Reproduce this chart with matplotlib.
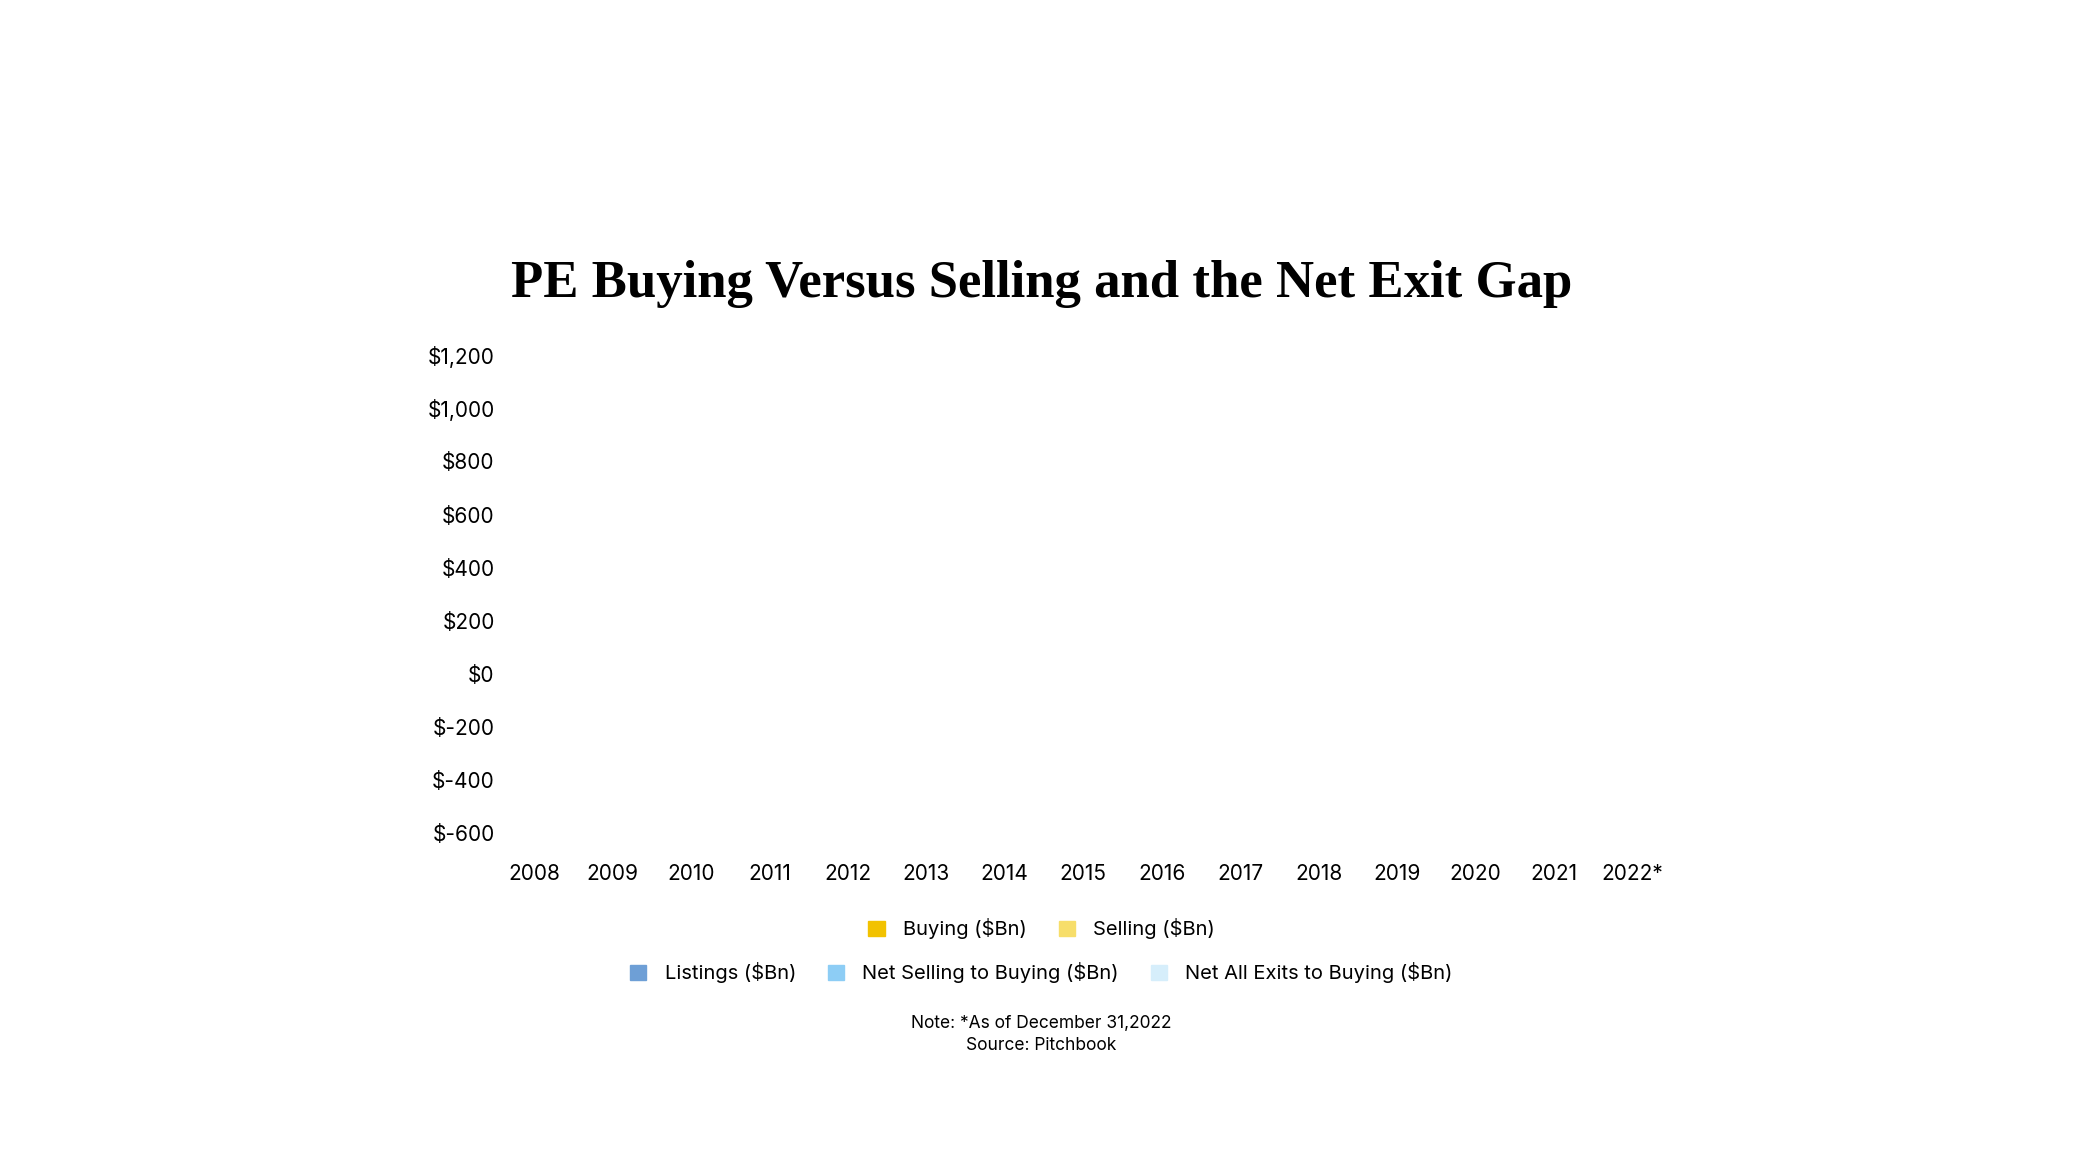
import matplotlib
matplotlib.use("Agg")
import matplotlib.pyplot as plt
import numpy as np
from matplotlib.patches import Patch

years = ["2008","2009","2010","2011","2012","2013","2014","2015","2016","2017","2018","2019","2020","2021","2022*"]
# The reference chart shows no visible bars (values not rendered)
buying = [np.nan]*15
selling = [np.nan]*15
listings = [np.nan]*15
net_selling = [np.nan]*15
net_all = [np.nan]*15
yticks = [-600,-400,-200,0,200,400,600,800,1000,1200]
series = [("Buying ($Bn)", buying, "#F2C200"), ("Selling ($Bn)", selling, "#F7DE6A"),
          ("Listings ($Bn)", listings, "#6E9FD6"), ("Net Selling to Buying ($Bn)", net_selling, "#8DCDF5"),
          ("Net All Exits to Buying ($Bn)", net_all, "#D6EEFB")]

plt.rcParams['font.family'] = ['Inter', 'DejaVu Sans']
fig = plt.figure(figsize=(20.83, 11.72), dpi=100)
ax = fig.add_axes([0.2375, 0.289, 0.565, 0.408])
x = np.arange(len(years))
w = 0.16
for i, (lab, vals, c) in enumerate(series):
    ax.bar(x + (i-2)*w, vals, w, color=c)
ax.set_xlim(-0.5, len(years)-0.5)
ax.set_ylim(-600, 1200)
ax.set_yticks(yticks)
ax.set_yticklabels([f"${v:,}" for v in yticks])
ax.set_xticks(x)
ax.set_xticklabels(years)
for s in ax.spines.values():
    s.set_visible(False)
ax.tick_params(length=0, labelsize=15)
ax.tick_params(axis='y', pad=0)
ax.tick_params(axis='x', pad=22)

fig.text(0.5, 0.758, "PE Buying Versus Selling and the Net Exit Gap", ha='center', va='center',
         fontsize=38, fontweight='bold', family=['Liberation Serif', 'DejaVu Serif'])
h1 = [Patch(color=c, label=l) for l, v, c in series[:2]]
h2 = [Patch(color=c, label=l) for l, v, c in series[2:]]
fig.legend(handles=h1, loc='center', bbox_to_anchor=(0.5, 0.2075), ncol=2, frameon=False,
           fontsize=14.5, handlelength=0.8, handleheight=0.8, columnspacing=1.6, handletextpad=0.9)
fig.legend(handles=h2, loc='center', bbox_to_anchor=(0.5, 0.17), ncol=3, frameon=False,
           fontsize=14.5, handlelength=0.8, handleheight=0.8, columnspacing=1.6, handletextpad=0.9)
fig.text(0.5, 0.127, "Note: *As of December 31,2022", ha='center', va='center', fontsize=12.5)
fig.text(0.5, 0.108, "Source: Pitchbook", ha='center', va='center', fontsize=12.5)
fig.savefig("out.png", dpi=100, facecolor='white')
